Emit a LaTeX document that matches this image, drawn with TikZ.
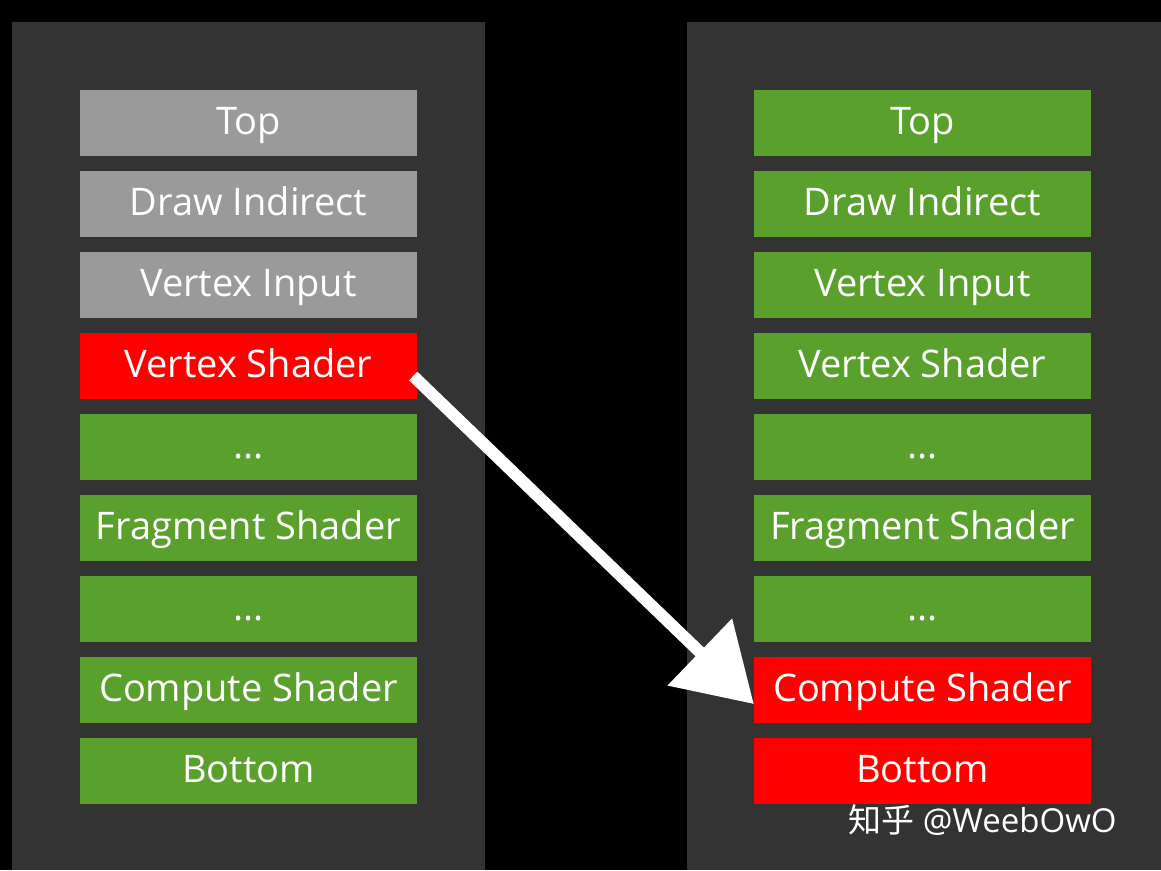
\documentclass[tikz,border=0pt]{standalone}
\usepackage{fontspec}
\setmainfont{Open Sans}
\newfontfamily\cjk{Noto Sans CJK SC}
\usetikzlibrary{arrows.meta}
\definecolor{panel}{HTML}{333333}
\definecolor{grn}{HTML}{5AA02C}
\definecolor{gry}{HTML}{9A9A9A}
\definecolor{rd}{HTML}{FF0000}
\begin{document}
\begin{tikzpicture}[x=1pt,y=-1pt,
  stage/.style={minimum width=337pt,minimum height=66pt,inner sep=0pt,text=white,text height=28pt,text depth=6pt,font=\fontsize{38}{42}\selectfont},
]
\fill[black] (0,0) rectangle (1161,870);
\useasboundingbox (0,0) rectangle (1161,870);
\fill[panel] (12,22) rectangle (485,870);
\fill[panel] (687,22) rectangle (1161,870);
\foreach \t/\lc/\rc [count=\i] in {Top/gry/grn,Draw Indirect/gry/grn,Vertex Input/gry/grn,Vertex Shader/rd/grn,{...}/grn/grn,Fragment Shader/grn/grn,{...}/grn/grn,Compute Shader/grn/rd,Bottom/grn/rd} {
  \pgfmathsetmacro\yy{123+81*(\i-1)}
  \node[stage,fill=\lc] (L\i) at (248.5,\yy) {\t};
  \node[stage,fill=\rc] (R\i) at (922.5,\yy) {\t};
}
\draw[white,line width=12pt,-{Triangle[length=75pt,width=90pt]}] ([xshift=-4pt,yshift=-10pt]L4.east) -- ([yshift=-14pt]R8.west);
\node[text=white,anchor=west,inner sep=0pt,font=\fontsize{33}{36}\selectfont] (wm) at (848,820) {{\cjk 知乎} @WeebOwO};
\end{tikzpicture}
\end{document}
